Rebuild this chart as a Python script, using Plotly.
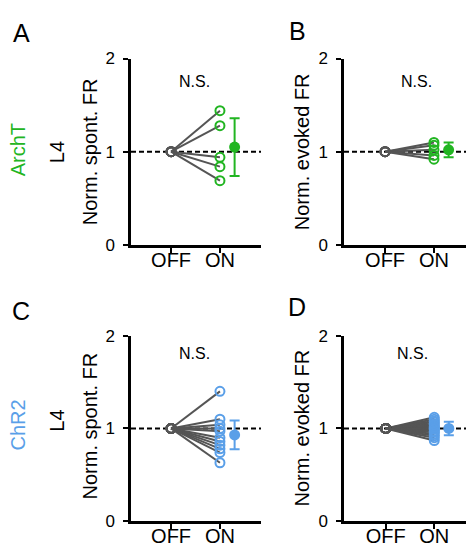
import plotly.graph_objects as go

W, H = 474, 556
FONT = "Arial, Liberation Sans, sans-serif"

GREEN = "#22b522"
BLUE = "#5a9fe8"
GRAY = "#555555"

# Data (normalized firing rates)
conditions = ["OFF", "ON"]
a_on = [1.44, 1.28, 0.94, 0.84, 0.69]          # ArchT, spontaneous
b_on = [1.10, 1.07, 1.02, 0.96, 0.92]          # ArchT, evoked
c_on = [1.40, 1.10, 1.04, 1.00, 0.97, 0.90, 0.86, 0.82, 0.78, 0.74, 0.63]  # ChR2, spontaneous
d_on = [1.12, 1.10, 1.08, 1.07, 1.05, 1.04, 1.02, 1.01, 1.00, 0.99,
        0.97, 0.96, 0.94, 0.92, 0.90, 0.87]   # ChR2, evoked
means = [1.05, 1.02, 0.93, 1.00]
errs = [0.31, 0.08, 0.155, 0.073]
y_titles = ["Norm. spont. FR", "Norm. evoked FR", "Norm. spont. FR", "Norm. evoked FR"]
y_ticks = [0, 1, 2]

fig = go.Figure()

def px_x(p):
    return p / W

def px_y(p):
    return 1 - p / H

panels = [
    dict(on=a_on, color=GREEN, xd=(123, 253), yd=(43, 236), xr=[-0.82, 1.84]),
    dict(on=b_on, color=GREEN, xd=(336, 468), yd=(43, 236), xr=[-0.84, 1.86]),
    dict(on=c_on, color=BLUE, xd=(123, 253), yd=(330, 522), xr=[-0.82, 1.84]),
    dict(on=d_on, color=BLUE, xd=(336, 468), yd=(330, 522), xr=[-0.86, 1.86]),
]

axis_common = dict(showline=True, linecolor="black", linewidth=2.5, ticks="outside",
                   ticklen=5, tickwidth=2, tickcolor="black", showgrid=False,
                   zeroline=False, tickfont=dict(family=FONT, color="black"))

for i, p in enumerate(panels):
    n = i + 1
    xa = "x" if n == 1 else f"x{n}"
    ya = "y" if n == 1 else f"y{n}"
    on = p["on"]
    off = [1.0] * len(on)
    # connecting lines
    lx, ly = [], []
    for v0, v1 in zip(off, on):
        lx += [0, 1, None]
        ly += [v0, v1, None]
    fig.add_trace(go.Scatter(x=lx, y=ly, mode="lines", line=dict(color=GRAY, width=2),
                             xaxis=xa, yaxis=ya, showlegend=False, hoverinfo="skip"))
    # OFF marker
    fig.add_trace(go.Scatter(x=[0] * len(off), y=off, mode="markers",
                             marker=dict(symbol="circle-open", size=9, color=GRAY,
                                         line=dict(width=2, color=GRAY)),
                             xaxis=xa, yaxis=ya, showlegend=False))
    # ON markers
    fig.add_trace(go.Scatter(x=[1] * len(on), y=on, mode="markers",
                             marker=dict(symbol="circle-open", size=9, color=p["color"],
                                         line=dict(width=2, color=p["color"])),
                             xaxis=xa, yaxis=ya, showlegend=False))
    # mean +/- error
    fig.add_trace(go.Scatter(x=[1.3], y=[means[i]], mode="markers",
                             marker=dict(symbol="circle", size=11, color=p["color"]),
                             error_y=dict(type="data", array=[errs[i]], color=p["color"],
                                          thickness=2, width=5),
                             xaxis=xa, yaxis=ya, showlegend=False))
    # dashed reference line
    fig.add_shape(type="line", xref=f"{xa} domain", yref=ya, x0=0, x1=1, y0=1, y1=1,
                  line=dict(color="black", width=2, dash="5px,3px"), layer="below")

    xkey = "xaxis" if n == 1 else f"xaxis{n}"
    ykey = "yaxis" if n == 1 else f"yaxis{n}"
    fig.update_layout(**{
        xkey: dict(axis_common, domain=[px_x(p["xd"][0]), px_x(p["xd"][1])],
                   range=p["xr"], tickvals=[0, 1], ticktext=conditions,
                   ticklabelstandoff=-10,
                   tickfont=dict(family=FONT, size=20, color="black"), anchor=ya),
        ykey: dict(axis_common, domain=[px_y(p["yd"][1]), px_y(p["yd"][0])],
                   range=[0, 2], tickvals=y_ticks, ticktext=[str(t) for t in y_ticks],
                   ticklabelstandoff=5,
                   tickfont=dict(family=FONT, size=17, color="black"), anchor=xa),
    })

ann = []
def txt(s, x, y, size, color="black", angle=0):
    ann.append(dict(text=s, x=px_x(x), y=px_y(y), xref="paper", yref="paper",
                    showarrow=False, xanchor="center", yanchor="middle",
                    textangle=angle, font=dict(family=FONT, size=size, color=color)))

# panel letters
txt("A", 13, 17, 25)
txt("B", 289, 15, 25)
txt("C", 13, 304, 25)
txt("D", 289, 300, 25)
# N.S.
txt("N.S.", 186, 67, 16)
txt("N.S.", 408, 67, 16)
txt("N.S.", 186, 348, 16)
txt("N.S.", 404, 348, 16)
# y titles
txt(y_titles[0], 82, 140, 20, angle=-90)
txt(y_titles[1], 294, 140, 20, angle=-90)
txt(y_titles[2], 82, 424, 20, angle=-90)
txt(y_titles[3], 294, 426, 20, angle=-90)
# L4 and group labels
txt("L4", 49, 140, 20, angle=-90)
txt("L4", 49, 418, 20, angle=-90)
txt("ArchT", 10, 138, 20, color=GREEN, angle=-90)
txt("ChR2", 10, 423, 20, color=BLUE, angle=-90)

fig.update_layout(width=W, height=H, margin=dict(l=0, r=0, t=0, b=0),
                  paper_bgcolor="white", plot_bgcolor="white", annotations=ann,
                  font=dict(family=FONT))

fig.write_html("out.html")
